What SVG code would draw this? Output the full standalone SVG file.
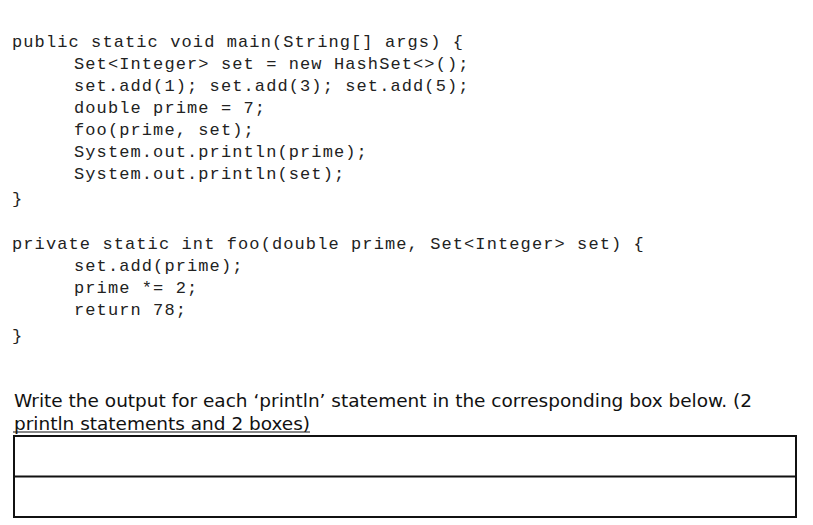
<svg xmlns="http://www.w3.org/2000/svg" width="813" height="525" viewBox="0 0 813 525">
<style>
.c{font-family:"Liberation Mono",monospace;font-size:17px;letter-spacing:1.1px;fill:#222}
.p{font-family:"DejaVu Sans Condensed","DejaVu Sans",sans-serif;font-size:18px;fill:#111}
</style>
<rect width="813" height="525" fill="#fff"/>
<g id="code">
<text class="c" x="12" y="47">public static void main(String[] args) {</text>
<text class="c" x="74" y="69">Set&lt;Integer&gt; set = new HashSet&lt;&gt;();</text>
<text class="c" x="74" y="91">set.add(1); set.add(3); set.add(5);</text>
<text class="c" x="74" y="113">double prime = 7;</text>
<text class="c" x="74" y="135">foo(prime, set);</text>
<text class="c" x="74" y="157">System.out.println(prime);</text>
<text class="c" x="74" y="179">System.out.println(set);</text>
<text class="c" x="12" y="204">}</text>
<text class="c" x="12" y="249">private static int foo(double prime, Set&lt;Integer&gt; set) {</text>
<text class="c" x="74" y="271">set.add(prime);</text>
<text class="c" x="74" y="293">prime *= 2;</text>
<text class="c" x="74" y="315">return 78;</text>
<text class="c" x="12" y="341">}</text>
</g>
<g id="prompt">
<text class="p" x="14" y="407" textLength="738" lengthAdjust="spacingAndGlyphs">Write the output for each ‘println’ statement in the corresponding box below. (2</text>
<text class="p" x="14" y="430" textLength="296" lengthAdjust="spacingAndGlyphs">println statements and 2 boxes)</text>
<line x1="13" y1="432" x2="310" y2="432" stroke="#111" stroke-width="1"/>
</g>
<g id="boxes" fill="none" stroke="#111" stroke-width="2">
<rect x="14" y="436" width="782" height="81"/>
<line x1="14" y1="476.5" x2="796" y2="476.5"/>
</g>
</svg>
